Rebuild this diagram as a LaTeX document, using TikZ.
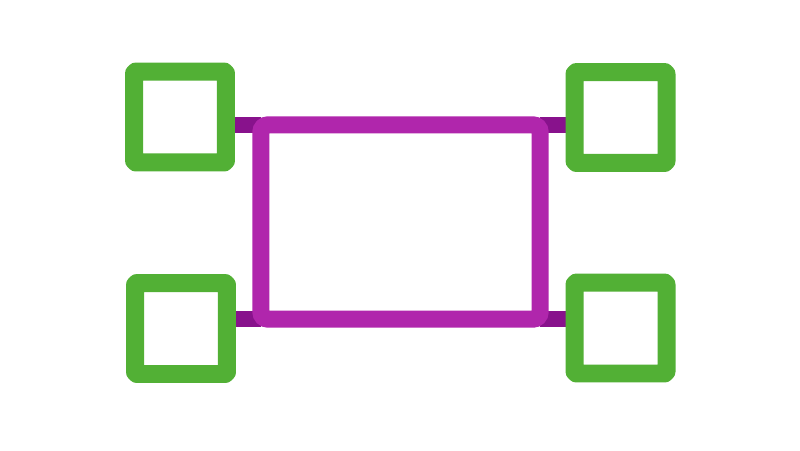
\documentclass[tikz,border=0pt]{standalone}
\usepackage{tikz}
\usetikzlibrary{backgrounds}
\definecolor{leafgreen}{RGB}{82,176,53}
\definecolor{hubpurple}{RGB}{176,38,172}
\definecolor{linkpurple}{RGB}{136,18,140}
\tikzset{
	greenbox/.style={draw=leafgreen, fill=white, line width=0.36cm, line join=round, rounded corners=1pt, minimum width=1.84cm, minimum height=1.82cm, inner sep=0pt},
	hubbox/.style={draw=hubpurple, fill=white, line width=0.34cm, rounded corners=0.15cm, minimum width=5.59cm, minimum height=3.89cm, inner sep=0pt, outer sep=0pt},
	link/.style={draw=linkpurple, line width=0.32cm}
}
\begin{document}
\begin{tikzpicture}[x=0.02cm, y=-0.02cm]
			%%%%% START %%%%%
			
			\useasboundingbox (0, 0) rectangle (800, 450);
			
			\node[hubbox] (hub) at (400.5, 222) {};
			
			\node[greenbox] (tl) at (180, 117) {};
			\node[greenbox] (tr) at (620.5, 117.5) {};
			\node[greenbox] (bl) at (181, 328.5) {};
			\node[greenbox] (br) at (620.5, 328) {};
			
			\begin{scope}[on background layer]
				\draw[link] (tl.east |- hub.north) -- (hub.north west);
				\draw[link] (tr.west |- hub.north) -- (hub.north east);
				\draw[link] (bl.east |- hub.south) -- (hub.south west);
				\draw[link] (br.west |- hub.south) -- (hub.south east);
			\end{scope}
			
			%%%%% END %%%%%
		\end{tikzpicture}
\end{document}
